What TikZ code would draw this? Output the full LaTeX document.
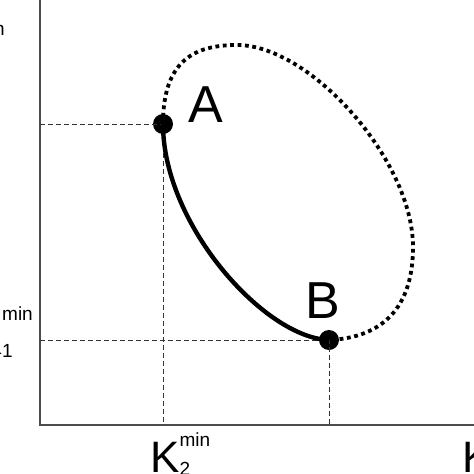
\documentclass[tikz,border=0pt]{standalone}
\usepackage{fontspec}
\setmainfont{Liberation Sans}
\usetikzlibrary{positioning}
\newcommand{\supfont}{\fontsize{19}{19}\selectfont}
\newcommand{\klabel}[3]{K\rlap{\raisebox{-3pt}{\supfont #1}}\raisebox{#3}{\supfont #2}}

\begin{document}
\begin{tikzpicture}[x=1pt, y=-1pt,
    axis/.style={draw=black!70, line width=2pt},
    guide/.style={draw=black!80, line width=0.9pt, dash pattern=on 5pt off 3pt},
    dot/.style={circle, fill=black, inner sep=0pt, minimum size=20pt},
    path/.style={line width=4.4pt, black},
    dotpath/.style={line width=3.8pt, black, dash pattern=on 3.8pt off 3.6pt},
    letter/.style={inner sep=0pt, font=\fontsize{52}{52}\selectfont},
    klab/.style={inner sep=0pt, font=\fontsize{44}{44}\selectfont},
    ylab/.style={inner sep=0pt, font=\fontsize{36}{36}\selectfont}]
    \useasboundingbox (0,0) rectangle (474,474);

    % axes
    \coordinate (o) at (40,425);
    \coordinate (ytop) at (40,0);
    \coordinate (xend) at (474,425);
    \draw[axis] (ytop) -- (o) -- (xend);

    % points
    \node[dot] (A) at (163,124) {};
    \node[dot] (B) at (329,340) {};
    \coordinate (Ay) at (40,124);
    \coordinate (Ax) at (163,425);
    \coordinate (By) at (40,340);
    \coordinate (Bx) at (329,425);

    \draw[guide] (Ay) -- (A.center) -- (Ax);
    \draw[guide] (By) -- (B.center) -- (Bx);

    % solid branch and dotted loop
    \draw[path] (A.center) .. controls (163,225) and (265,338) .. (B.center);
    \draw[dotpath] (A.center) .. controls (163,60) and (195,45) .. (237,45)
        .. controls (310,45) and (413,160) .. (413,247)
        .. controls (413,315) and (375,338) .. (B.center);

    \node[letter, anchor=base west] (Alab) at (188,122) {A};
    \node[letter, anchor=base west] (Blab) at (305,318) {B};

    % axis labels
    \node[klab, anchor=base west] (k2) at (150,472) {\klabel{2}{min}{26pt}};
    \node[klab, anchor=base west] (kx) at (462,472) {K};
    \node[ylab, anchor=base east] (k1) at (33,354) {\klabel{1}{min}{34pt}};
    \node[ylab, anchor=base east] (k1top) at (5,69) {\klabel{1}{min}{34pt}};
\end{tikzpicture}
\end{document}
